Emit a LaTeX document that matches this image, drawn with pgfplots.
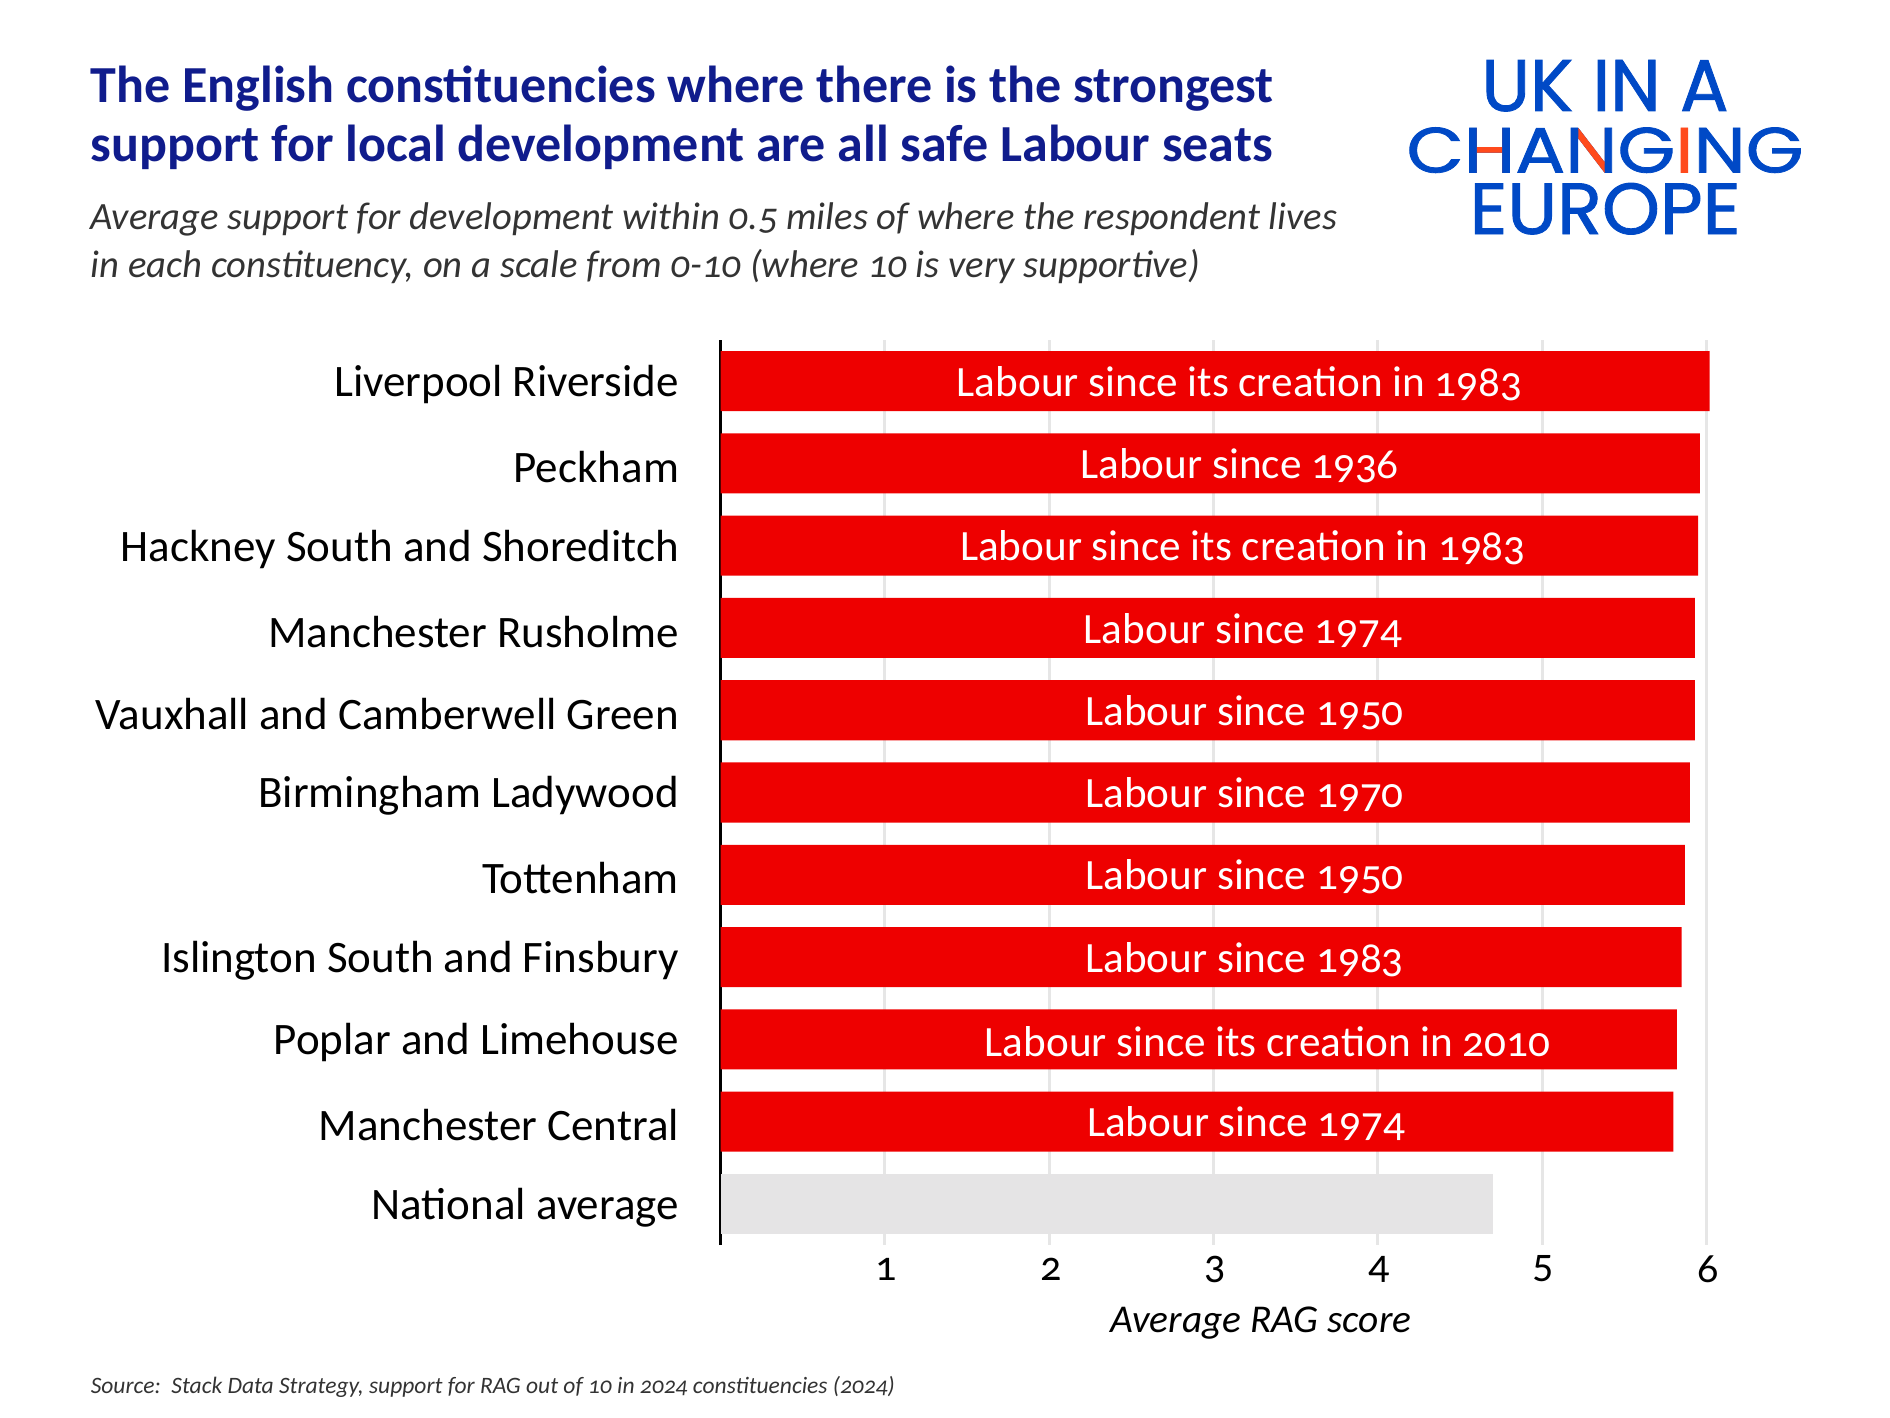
\documentclass[border=0pt]{standalone}
\usepackage{pgfplots}
\pgfplotsset{compat=1.18}
\usepackage{pgfplotstable}
\usepackage{fontspec}
\setmainfont{Carlito}[Numbers=OldStyle]
\newfontfamily\logofont{Poppins}[FakeBold=1.2]
\definecolor{labred}{HTML}{EE0000}
\definecolor{navy}{HTML}{101C8C}
\definecolor{logoblue}{HTML}{0049C6}
\definecolor{logoorange}{HTML}{FF4A1C}
\definecolor{avggrey}{HTML}{E5E4E5}
\definecolor{gridgrey}{HTML}{E6E6E6}
\definecolor{subgrey}{HTML}{333333}

% letter whose inner part (between the stems) is drawn in orange
\newcommand\orangeinner[1]{\tikz[baseline=(g.base),x=1em,y=1em]{%
  \node[inner sep=0pt,outer sep=0pt,anchor=base,text=logoblue] (g) at (0,0) {#1};
  \begin{scope}
    \clip ([xshift=0.175em,yshift=-0.1em]g.south west) rectangle ([xshift=-0.175em,yshift=0.1em]g.north east);
    \node[inner sep=0pt,outer sep=0pt,anchor=base,text=logoorange] at (g.base) {#1};
  \end{scope}}}

\pgfplotstableread{
y x
10 6.02
9 5.96
8 5.95
7 5.93
6 5.93
5 5.90
4 5.87
3 5.85
2 5.82
1 5.80
}\labourdata
\pgfplotstableread{
y x
0 4.70
}\avgdata

\begin{document}
\begin{tikzpicture}[x=0.25pt,y=0.25pt]
\useasboundingbox (0,0) rectangle (1890,1417);
% titles
\node[anchor=base west,inner sep=0,text=navy,font=\bfseries\fontsize{13}{15}\selectfont] at (90,1314) {The English constituencies where there is the strongest};
\node[anchor=base west,inner sep=0,text=navy,font=\bfseries\fontsize{13}{15}\selectfont] at (90,1255.5) {support for local development are all safe Labour seats};
\node[anchor=base west,inner sep=0,text=subgrey,font=\itshape\fontsize{9.65}{11}\selectfont] at (90,1188) {Average support for development within 0.5 miles of where the respondent lives};
\node[anchor=base west,inner sep=0,text=subgrey,font=\itshape\fontsize{9.65}{11}\selectfont] at (90,1140) {in each constituency, on a scale from 0-10 (where 10 is very supportive)};
% logo
\node[anchor=base,inner sep=0,text=logoblue] at (1605,1306) {\resizebox{61.75pt}{12.75pt}{\logofont UK IN A}};
\node[anchor=base,inner sep=0,text=logoblue] at (1605,1244.5) {\resizebox{99.25pt}{12.75pt}{\logofont C\orangeinner{H}A\orangeinner{N}G{\color{logoorange}I}NG}};
\node[anchor=base,inner sep=0,text=logoblue] at (1605,1183) {\resizebox{67.75pt}{12.75pt}{\logofont EUROPE}};

\begin{axis}[
  at={(180.125pt,43pt)}, anchor=south west, scale only axis,
  width=248.5pt, height=226.25pt,
  xmin=0, xmax=6.05, ymin=-0.5, ymax=10.5,
  xbar, bar width=0.73, bar shift=0pt,
  axis lines*=left,
  axis line style={-},
  x axis line style={draw=none},
  y axis line style={black,line width=0.6pt},
  xtick={1,2,3,4,5,6},
  xmajorgrids, major grid style={gridgrey,line width=0.75pt},
  ytick={0,1,2,3,4,5,6,7,8,9,10},
  yticklabels={National average,Manchester Central,Poplar and Limehouse,Islington South and Finsbury,Tottenham,Birmingham Ladywood,Vauxhall and Camberwell Green,Manchester Rusholme,Hackney South and Shoreditch,Peckham,Liverpool Riverside},
  major tick length=0pt,
  /pgf/number format/assume math mode=true,
  xticklabel style={font=\fontsize{10.5}{12}\selectfont,anchor=center,yshift=-6pt,xshift=0.4pt,text=black},
  yticklabel style={font=\fontsize{11.25}{13}\selectfont,anchor=east,inner sep=0pt,xshift=-10.2pt,yshift=-0.9pt,text=black},
  clip=false,
]
\addplot[fill=labred,draw=none] table[x=x,y=y] {\labourdata};
\addplot[fill=avggrey,draw=none] table[x=x,y=y] {\avgdata};
\begin{scope}[every node/.style={text=white,font=\fontsize{10.8}{13}\selectfont,anchor=center,inner sep=0,yshift=-0.6pt}]
\node at (axis cs:3.16,10) {Labour since its creation in 1983};
\node at (axis cs:3.16,9) {Labour since 1936};
\node at (axis cs:3.18,8) {Labour since its creation in 1983};
\node at (axis cs:3.18,7) {Labour since 1974};
\node at (axis cs:3.19,6) {Labour since 1950};
\node at (axis cs:3.19,5) {Labour since 1970};
\node at (axis cs:3.19,4) {Labour since 1950};
\node at (axis cs:3.19,3) {Labour since 1983};
\node at (axis cs:3.33,2) {Labour since its creation in 2010};
\node at (axis cs:3.20,1) {Labour since 1974};
\end{scope}
\end{axis}
\node[anchor=base,inner sep=0,font=\itshape\fontsize{9.85}{12}\selectfont,text=black] at (1261,85) {Average RAG score};
\node[anchor=base west,inner sep=0,font=\itshape\fontsize{5.88}{7}\selectfont,text=subgrey] at (90,23.5) {Source:\ \ Stack Data Strategy, support for RAG out of 10 in 2024 constituencies (2024)};
\end{tikzpicture}
\end{document}
